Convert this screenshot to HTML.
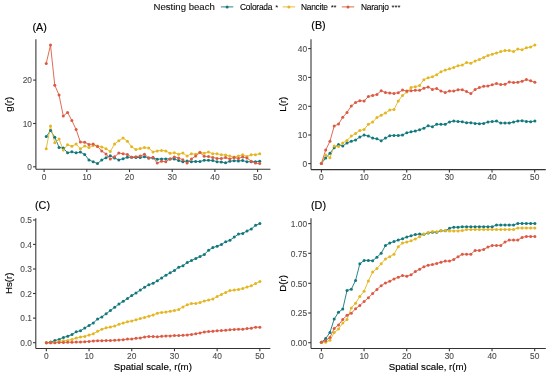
<!DOCTYPE html>
<html><head><meta charset="utf-8"><style>
html,body{margin:0;padding:0;background:#fff;}
svg{display:block;will-change:transform;}
text{font-family:"Liberation Sans",sans-serif;}
.tk{font-size:8.4px;fill:#4d4d4d;stroke:#4d4d4d;stroke-width:0.1px;}
.ttl{font-size:10.8px;fill:#000;stroke:#000;stroke-width:0.15px;}
.ax{font-size:9.7px;fill:#000;stroke:#000;stroke-width:0.15px;}
.lg{font-size:9.6px;fill:#111;stroke:#111;stroke-width:0.1px;}
.lk{font-size:8.4px;letter-spacing:-0.22px;fill:#000;stroke:#000;stroke-width:0.1px;}
.as{font-size:7.8px;letter-spacing:-0.1px;stroke-width:0;}
</style></head><body>
<svg width="550" height="374" viewBox="0 0 550 374">
<defs><filter id="soft" x="-5%" y="-5%" width="110%" height="110%"><feGaussianBlur stdDeviation="0.3"/></filter></defs>
<rect width="550" height="374" fill="#fff"/>
<g filter="url(#soft)">
<line x1="35.9" y1="39.3" x2="35.9" y2="169.3" stroke="#333333" stroke-width="1.07"/>
<line x1="35.9" y1="169.3" x2="270.4" y2="169.3" stroke="#333333" stroke-width="1.07"/>
<line x1="44.10" y1="169.3" x2="44.10" y2="172.10000000000002" stroke="#333333" stroke-width="1.07"/>
<text x="44.10" y="179.70000000000002" text-anchor="middle" class="tk">0</text>
<line x1="86.80" y1="169.3" x2="86.80" y2="172.10000000000002" stroke="#333333" stroke-width="1.07"/>
<text x="86.80" y="179.70000000000002" text-anchor="middle" class="tk">10</text>
<line x1="129.50" y1="169.3" x2="129.50" y2="172.10000000000002" stroke="#333333" stroke-width="1.07"/>
<text x="129.50" y="179.70000000000002" text-anchor="middle" class="tk">20</text>
<line x1="172.20" y1="169.3" x2="172.20" y2="172.10000000000002" stroke="#333333" stroke-width="1.07"/>
<text x="172.20" y="179.70000000000002" text-anchor="middle" class="tk">30</text>
<line x1="214.90" y1="169.3" x2="214.90" y2="172.10000000000002" stroke="#333333" stroke-width="1.07"/>
<text x="214.90" y="179.70000000000002" text-anchor="middle" class="tk">40</text>
<line x1="257.60" y1="169.3" x2="257.60" y2="172.10000000000002" stroke="#333333" stroke-width="1.07"/>
<text x="257.60" y="179.70000000000002" text-anchor="middle" class="tk">50</text>
<line x1="33.1" y1="166.80" x2="35.9" y2="166.80" stroke="#333333" stroke-width="1.07"/>
<text x="32.0" y="170.10" text-anchor="end" class="tk">0</text>
<line x1="33.1" y1="123.50" x2="35.9" y2="123.50" stroke="#333333" stroke-width="1.07"/>
<text x="32.0" y="126.80" text-anchor="end" class="tk">10</text>
<line x1="33.1" y1="80.10" x2="35.9" y2="80.10" stroke="#333333" stroke-width="1.07"/>
<text x="32.0" y="83.40" text-anchor="end" class="tk">20</text>
<polyline points="46.23,136.60 50.51,130.60 54.77,137.20 59.05,147.40 63.31,148.10 67.59,152.80 71.85,151.80 76.12,152.80 80.39,152.10 84.66,154.40 88.94,159.90 93.20,161.80 97.47,163.50 101.75,160.00 106.01,157.70 110.28,155.70 114.56,158.00 118.82,159.90 123.09,158.70 127.36,157.30 131.63,157.30 135.91,157.50 140.17,157.50 144.44,156.70 148.72,157.90 152.98,157.90 157.25,159.20 161.52,158.90 165.79,158.90 170.06,158.90 174.33,158.90 178.60,160.50 182.87,161.70 187.14,161.00 191.41,161.70 195.68,161.50 199.95,161.50 204.22,160.30 208.49,160.30 212.76,160.50 217.03,161.70 221.30,162.10 225.57,162.80 229.84,161.20 234.11,160.70 238.38,161.00 242.65,160.50 246.92,161.70 251.19,161.70 255.46,161.70 259.74,161.20" fill="none" stroke="#12787c" stroke-width="0.9" stroke-linejoin="round"/>
<polyline points="46.23,148.70 50.51,126.00 54.77,142.70 59.05,139.10 63.31,150.10 67.59,144.70 71.85,146.30 76.12,144.10 80.39,148.70 84.66,146.00 88.94,147.60 93.20,145.40 97.47,146.10 101.75,146.90 106.01,148.70 110.28,151.50 114.56,144.00 118.82,140.80 123.09,138.00 127.36,141.20 131.63,146.80 135.91,149.50 140.17,148.60 144.44,147.60 148.72,148.10 152.98,151.90 157.25,150.90 161.52,150.40 165.79,150.90 170.06,153.30 174.33,152.80 178.60,154.20 182.87,153.00 187.14,156.10 191.41,153.70 195.68,154.20 199.95,152.30 204.22,153.30 208.49,151.90 212.76,153.70 217.03,153.70 221.30,154.70 225.57,155.10 229.84,156.10 234.11,157.00 238.38,156.10 242.65,154.70 246.92,156.50 251.19,154.70 255.46,154.70 259.74,153.70" fill="none" stroke="#e4b622" stroke-width="0.9" stroke-linejoin="round"/>
<polyline points="46.23,63.40 50.51,45.10 54.77,85.20 59.05,95.10 63.31,116.00 67.59,112.50 71.85,120.50 76.12,129.50 80.39,142.10 84.66,142.20 88.94,144.40 93.20,144.10 97.47,146.40 101.75,151.00 106.01,153.90 110.28,159.10 114.56,156.80 118.82,153.00 123.09,153.80 127.36,154.40 131.63,157.20 135.91,156.70 140.17,156.10 144.44,154.20 148.72,157.90 152.98,157.30 157.25,163.10 161.52,161.20 165.79,161.70 170.06,158.90 174.33,157.00 178.60,157.90 182.87,159.80 187.14,163.10 191.41,158.90 195.68,156.10 199.95,152.60 204.22,156.30 208.49,156.50 212.76,157.50 217.03,158.40 221.30,158.60 225.57,157.50 229.84,158.90 234.11,157.50 238.38,158.40 242.65,157.00 246.92,157.90 251.19,161.20 255.46,163.10 259.74,163.60" fill="none" stroke="#dc5a43" stroke-width="0.9" stroke-linejoin="round"/>
<circle cx="46.23" cy="136.60" r="1.5" fill="#12787c"/><circle cx="50.51" cy="130.60" r="1.5" fill="#12787c"/><circle cx="54.77" cy="137.20" r="1.5" fill="#12787c"/><circle cx="59.05" cy="147.40" r="1.5" fill="#12787c"/><circle cx="63.31" cy="148.10" r="1.5" fill="#12787c"/><circle cx="67.59" cy="152.80" r="1.5" fill="#12787c"/><circle cx="71.85" cy="151.80" r="1.5" fill="#12787c"/><circle cx="76.12" cy="152.80" r="1.5" fill="#12787c"/><circle cx="80.39" cy="152.10" r="1.5" fill="#12787c"/><circle cx="84.66" cy="154.40" r="1.5" fill="#12787c"/><circle cx="88.94" cy="159.90" r="1.5" fill="#12787c"/><circle cx="93.20" cy="161.80" r="1.5" fill="#12787c"/><circle cx="97.47" cy="163.50" r="1.5" fill="#12787c"/><circle cx="101.75" cy="160.00" r="1.5" fill="#12787c"/><circle cx="106.01" cy="157.70" r="1.5" fill="#12787c"/><circle cx="110.28" cy="155.70" r="1.5" fill="#12787c"/><circle cx="114.56" cy="158.00" r="1.5" fill="#12787c"/><circle cx="118.82" cy="159.90" r="1.5" fill="#12787c"/><circle cx="123.09" cy="158.70" r="1.5" fill="#12787c"/><circle cx="127.36" cy="157.30" r="1.5" fill="#12787c"/><circle cx="131.63" cy="157.30" r="1.5" fill="#12787c"/><circle cx="135.91" cy="157.50" r="1.5" fill="#12787c"/><circle cx="140.17" cy="157.50" r="1.5" fill="#12787c"/><circle cx="144.44" cy="156.70" r="1.5" fill="#12787c"/><circle cx="148.72" cy="157.90" r="1.5" fill="#12787c"/><circle cx="152.98" cy="157.90" r="1.5" fill="#12787c"/><circle cx="157.25" cy="159.20" r="1.5" fill="#12787c"/><circle cx="161.52" cy="158.90" r="1.5" fill="#12787c"/><circle cx="165.79" cy="158.90" r="1.5" fill="#12787c"/><circle cx="170.06" cy="158.90" r="1.5" fill="#12787c"/><circle cx="174.33" cy="158.90" r="1.5" fill="#12787c"/><circle cx="178.60" cy="160.50" r="1.5" fill="#12787c"/><circle cx="182.87" cy="161.70" r="1.5" fill="#12787c"/><circle cx="187.14" cy="161.00" r="1.5" fill="#12787c"/><circle cx="191.41" cy="161.70" r="1.5" fill="#12787c"/><circle cx="195.68" cy="161.50" r="1.5" fill="#12787c"/><circle cx="199.95" cy="161.50" r="1.5" fill="#12787c"/><circle cx="204.22" cy="160.30" r="1.5" fill="#12787c"/><circle cx="208.49" cy="160.30" r="1.5" fill="#12787c"/><circle cx="212.76" cy="160.50" r="1.5" fill="#12787c"/><circle cx="217.03" cy="161.70" r="1.5" fill="#12787c"/><circle cx="221.30" cy="162.10" r="1.5" fill="#12787c"/><circle cx="225.57" cy="162.80" r="1.5" fill="#12787c"/><circle cx="229.84" cy="161.20" r="1.5" fill="#12787c"/><circle cx="234.11" cy="160.70" r="1.5" fill="#12787c"/><circle cx="238.38" cy="161.00" r="1.5" fill="#12787c"/><circle cx="242.65" cy="160.50" r="1.5" fill="#12787c"/><circle cx="246.92" cy="161.70" r="1.5" fill="#12787c"/><circle cx="251.19" cy="161.70" r="1.5" fill="#12787c"/><circle cx="255.46" cy="161.70" r="1.5" fill="#12787c"/><circle cx="259.74" cy="161.20" r="1.5" fill="#12787c"/>
<circle cx="46.23" cy="148.70" r="1.5" fill="#e4b622"/><circle cx="50.51" cy="126.00" r="1.5" fill="#e4b622"/><circle cx="54.77" cy="142.70" r="1.5" fill="#e4b622"/><circle cx="59.05" cy="139.10" r="1.5" fill="#e4b622"/><circle cx="63.31" cy="150.10" r="1.5" fill="#e4b622"/><circle cx="67.59" cy="144.70" r="1.5" fill="#e4b622"/><circle cx="71.85" cy="146.30" r="1.5" fill="#e4b622"/><circle cx="76.12" cy="144.10" r="1.5" fill="#e4b622"/><circle cx="80.39" cy="148.70" r="1.5" fill="#e4b622"/><circle cx="84.66" cy="146.00" r="1.5" fill="#e4b622"/><circle cx="88.94" cy="147.60" r="1.5" fill="#e4b622"/><circle cx="93.20" cy="145.40" r="1.5" fill="#e4b622"/><circle cx="97.47" cy="146.10" r="1.5" fill="#e4b622"/><circle cx="101.75" cy="146.90" r="1.5" fill="#e4b622"/><circle cx="106.01" cy="148.70" r="1.5" fill="#e4b622"/><circle cx="110.28" cy="151.50" r="1.5" fill="#e4b622"/><circle cx="114.56" cy="144.00" r="1.5" fill="#e4b622"/><circle cx="118.82" cy="140.80" r="1.5" fill="#e4b622"/><circle cx="123.09" cy="138.00" r="1.5" fill="#e4b622"/><circle cx="127.36" cy="141.20" r="1.5" fill="#e4b622"/><circle cx="131.63" cy="146.80" r="1.5" fill="#e4b622"/><circle cx="135.91" cy="149.50" r="1.5" fill="#e4b622"/><circle cx="140.17" cy="148.60" r="1.5" fill="#e4b622"/><circle cx="144.44" cy="147.60" r="1.5" fill="#e4b622"/><circle cx="148.72" cy="148.10" r="1.5" fill="#e4b622"/><circle cx="152.98" cy="151.90" r="1.5" fill="#e4b622"/><circle cx="157.25" cy="150.90" r="1.5" fill="#e4b622"/><circle cx="161.52" cy="150.40" r="1.5" fill="#e4b622"/><circle cx="165.79" cy="150.90" r="1.5" fill="#e4b622"/><circle cx="170.06" cy="153.30" r="1.5" fill="#e4b622"/><circle cx="174.33" cy="152.80" r="1.5" fill="#e4b622"/><circle cx="178.60" cy="154.20" r="1.5" fill="#e4b622"/><circle cx="182.87" cy="153.00" r="1.5" fill="#e4b622"/><circle cx="187.14" cy="156.10" r="1.5" fill="#e4b622"/><circle cx="191.41" cy="153.70" r="1.5" fill="#e4b622"/><circle cx="195.68" cy="154.20" r="1.5" fill="#e4b622"/><circle cx="199.95" cy="152.30" r="1.5" fill="#e4b622"/><circle cx="204.22" cy="153.30" r="1.5" fill="#e4b622"/><circle cx="208.49" cy="151.90" r="1.5" fill="#e4b622"/><circle cx="212.76" cy="153.70" r="1.5" fill="#e4b622"/><circle cx="217.03" cy="153.70" r="1.5" fill="#e4b622"/><circle cx="221.30" cy="154.70" r="1.5" fill="#e4b622"/><circle cx="225.57" cy="155.10" r="1.5" fill="#e4b622"/><circle cx="229.84" cy="156.10" r="1.5" fill="#e4b622"/><circle cx="234.11" cy="157.00" r="1.5" fill="#e4b622"/><circle cx="238.38" cy="156.10" r="1.5" fill="#e4b622"/><circle cx="242.65" cy="154.70" r="1.5" fill="#e4b622"/><circle cx="246.92" cy="156.50" r="1.5" fill="#e4b622"/><circle cx="251.19" cy="154.70" r="1.5" fill="#e4b622"/><circle cx="255.46" cy="154.70" r="1.5" fill="#e4b622"/><circle cx="259.74" cy="153.70" r="1.5" fill="#e4b622"/>
<circle cx="46.23" cy="63.40" r="1.5" fill="#dc5a43"/><circle cx="50.51" cy="45.10" r="1.5" fill="#dc5a43"/><circle cx="54.77" cy="85.20" r="1.5" fill="#dc5a43"/><circle cx="59.05" cy="95.10" r="1.5" fill="#dc5a43"/><circle cx="63.31" cy="116.00" r="1.5" fill="#dc5a43"/><circle cx="67.59" cy="112.50" r="1.5" fill="#dc5a43"/><circle cx="71.85" cy="120.50" r="1.5" fill="#dc5a43"/><circle cx="76.12" cy="129.50" r="1.5" fill="#dc5a43"/><circle cx="80.39" cy="142.10" r="1.5" fill="#dc5a43"/><circle cx="84.66" cy="142.20" r="1.5" fill="#dc5a43"/><circle cx="88.94" cy="144.40" r="1.5" fill="#dc5a43"/><circle cx="93.20" cy="144.10" r="1.5" fill="#dc5a43"/><circle cx="97.47" cy="146.40" r="1.5" fill="#dc5a43"/><circle cx="101.75" cy="151.00" r="1.5" fill="#dc5a43"/><circle cx="106.01" cy="153.90" r="1.5" fill="#dc5a43"/><circle cx="110.28" cy="159.10" r="1.5" fill="#dc5a43"/><circle cx="114.56" cy="156.80" r="1.5" fill="#dc5a43"/><circle cx="118.82" cy="153.00" r="1.5" fill="#dc5a43"/><circle cx="123.09" cy="153.80" r="1.5" fill="#dc5a43"/><circle cx="127.36" cy="154.40" r="1.5" fill="#dc5a43"/><circle cx="131.63" cy="157.20" r="1.5" fill="#dc5a43"/><circle cx="135.91" cy="156.70" r="1.5" fill="#dc5a43"/><circle cx="140.17" cy="156.10" r="1.5" fill="#dc5a43"/><circle cx="144.44" cy="154.20" r="1.5" fill="#dc5a43"/><circle cx="148.72" cy="157.90" r="1.5" fill="#dc5a43"/><circle cx="152.98" cy="157.30" r="1.5" fill="#dc5a43"/><circle cx="157.25" cy="163.10" r="1.5" fill="#dc5a43"/><circle cx="161.52" cy="161.20" r="1.5" fill="#dc5a43"/><circle cx="165.79" cy="161.70" r="1.5" fill="#dc5a43"/><circle cx="170.06" cy="158.90" r="1.5" fill="#dc5a43"/><circle cx="174.33" cy="157.00" r="1.5" fill="#dc5a43"/><circle cx="178.60" cy="157.90" r="1.5" fill="#dc5a43"/><circle cx="182.87" cy="159.80" r="1.5" fill="#dc5a43"/><circle cx="187.14" cy="163.10" r="1.5" fill="#dc5a43"/><circle cx="191.41" cy="158.90" r="1.5" fill="#dc5a43"/><circle cx="195.68" cy="156.10" r="1.5" fill="#dc5a43"/><circle cx="199.95" cy="152.60" r="1.5" fill="#dc5a43"/><circle cx="204.22" cy="156.30" r="1.5" fill="#dc5a43"/><circle cx="208.49" cy="156.50" r="1.5" fill="#dc5a43"/><circle cx="212.76" cy="157.50" r="1.5" fill="#dc5a43"/><circle cx="217.03" cy="158.40" r="1.5" fill="#dc5a43"/><circle cx="221.30" cy="158.60" r="1.5" fill="#dc5a43"/><circle cx="225.57" cy="157.50" r="1.5" fill="#dc5a43"/><circle cx="229.84" cy="158.90" r="1.5" fill="#dc5a43"/><circle cx="234.11" cy="157.50" r="1.5" fill="#dc5a43"/><circle cx="238.38" cy="158.40" r="1.5" fill="#dc5a43"/><circle cx="242.65" cy="157.00" r="1.5" fill="#dc5a43"/><circle cx="246.92" cy="157.90" r="1.5" fill="#dc5a43"/><circle cx="251.19" cy="161.20" r="1.5" fill="#dc5a43"/><circle cx="255.46" cy="163.10" r="1.5" fill="#dc5a43"/><circle cx="259.74" cy="163.60" r="1.5" fill="#dc5a43"/>
<line x1="311.0" y1="39.3" x2="311.0" y2="169.6" stroke="#333333" stroke-width="1.07"/>
<line x1="311.0" y1="169.6" x2="545.8" y2="169.6" stroke="#333333" stroke-width="1.07"/>
<line x1="321.40" y1="169.6" x2="321.40" y2="172.4" stroke="#333333" stroke-width="1.07"/>
<text x="321.40" y="180.0" text-anchor="middle" class="tk">0</text>
<line x1="364.06" y1="169.6" x2="364.06" y2="172.4" stroke="#333333" stroke-width="1.07"/>
<text x="364.06" y="180.0" text-anchor="middle" class="tk">10</text>
<line x1="406.72" y1="169.6" x2="406.72" y2="172.4" stroke="#333333" stroke-width="1.07"/>
<text x="406.72" y="180.0" text-anchor="middle" class="tk">20</text>
<line x1="449.38" y1="169.6" x2="449.38" y2="172.4" stroke="#333333" stroke-width="1.07"/>
<text x="449.38" y="180.0" text-anchor="middle" class="tk">30</text>
<line x1="492.04" y1="169.6" x2="492.04" y2="172.4" stroke="#333333" stroke-width="1.07"/>
<text x="492.04" y="180.0" text-anchor="middle" class="tk">40</text>
<line x1="534.70" y1="169.6" x2="534.70" y2="172.4" stroke="#333333" stroke-width="1.07"/>
<text x="534.70" y="180.0" text-anchor="middle" class="tk">50</text>
<line x1="308.2" y1="163.60" x2="311.0" y2="163.60" stroke="#333333" stroke-width="1.07"/>
<text x="307.1" y="166.90" text-anchor="end" class="tk">0</text>
<line x1="308.2" y1="135.00" x2="311.0" y2="135.00" stroke="#333333" stroke-width="1.07"/>
<text x="307.1" y="138.30" text-anchor="end" class="tk">10</text>
<line x1="308.2" y1="106.30" x2="311.0" y2="106.30" stroke="#333333" stroke-width="1.07"/>
<text x="307.1" y="109.60" text-anchor="end" class="tk">20</text>
<line x1="308.2" y1="77.40" x2="311.0" y2="77.40" stroke="#333333" stroke-width="1.07"/>
<text x="307.1" y="80.70" text-anchor="end" class="tk">30</text>
<line x1="308.2" y1="48.60" x2="311.0" y2="48.60" stroke="#333333" stroke-width="1.07"/>
<text x="307.1" y="51.90" text-anchor="end" class="tk">40</text>
<polyline points="321.40,163.40 325.67,158.10 329.94,153.30 334.21,147.70 338.48,144.50 342.75,146.10 347.02,142.90 351.29,141.30 355.56,140.10 359.83,137.00 364.10,135.10 368.37,136.10 372.64,138.10 376.91,138.80 381.18,140.80 385.45,138.10 389.72,135.80 393.99,135.40 398.26,135.40 402.53,135.00 406.80,132.80 411.07,131.80 415.34,131.00 419.61,129.70 423.88,128.30 428.15,125.70 432.42,126.70 436.69,124.30 440.96,124.30 445.23,124.30 449.50,121.90 453.77,121.10 458.04,121.40 462.31,121.80 466.58,122.70 470.85,122.70 475.12,123.40 479.39,123.80 483.66,123.40 487.93,122.10 492.20,121.50 496.47,121.10 500.74,123.00 505.01,123.00 509.28,123.00 513.55,122.10 517.82,121.10 522.09,120.70 526.36,121.40 530.63,121.70 534.90,121.10" fill="none" stroke="#12787c" stroke-width="0.9" stroke-linejoin="round"/>
<polyline points="321.40,163.40 325.67,154.90 329.94,157.80 334.21,146.10 338.48,146.50 342.75,142.90 347.02,140.40 351.29,136.10 355.56,133.50 359.83,130.50 364.10,129.50 368.37,124.30 372.64,122.10 376.91,117.60 381.18,115.20 385.45,113.00 389.72,110.00 393.99,109.40 398.26,101.10 402.53,95.40 406.80,92.10 411.07,87.40 415.34,86.70 419.61,85.40 423.88,79.70 428.15,77.70 432.42,76.80 436.69,74.70 440.96,71.70 445.23,70.10 449.50,68.80 453.77,67.50 458.04,65.70 462.31,65.10 466.58,62.60 470.85,63.20 475.12,61.00 479.39,59.40 483.66,57.40 487.93,55.50 492.20,54.20 496.47,53.00 500.74,51.60 505.01,50.60 509.28,50.60 513.55,51.50 517.82,49.10 522.09,49.70 526.36,47.80 530.63,47.00 534.90,44.90" fill="none" stroke="#e4b622" stroke-width="0.9" stroke-linejoin="round"/>
<polyline points="321.40,163.40 325.67,150.10 329.94,141.30 334.21,126.00 338.48,124.10 342.75,117.30 347.02,112.40 351.29,106.10 355.56,102.50 359.83,100.70 364.10,101.00 368.37,96.50 372.64,95.40 376.91,94.50 381.18,90.70 385.45,92.60 389.72,93.00 393.99,93.40 398.26,92.70 402.53,90.10 406.80,91.10 411.07,90.70 415.34,90.30 419.61,90.30 423.88,88.30 428.15,86.90 432.42,89.40 436.69,88.40 440.96,91.10 445.23,92.50 449.50,91.10 453.77,91.10 458.04,89.80 462.31,89.80 466.58,91.60 470.85,93.60 475.12,89.50 479.39,87.60 483.66,86.30 487.93,86.00 492.20,84.70 496.47,83.50 500.74,84.50 505.01,84.30 509.28,82.00 513.55,82.50 517.82,82.30 522.09,81.20 526.36,79.60 530.63,80.70 534.90,82.30" fill="none" stroke="#dc5a43" stroke-width="0.9" stroke-linejoin="round"/>
<circle cx="321.40" cy="163.40" r="1.5" fill="#12787c"/><circle cx="325.67" cy="158.10" r="1.5" fill="#12787c"/><circle cx="329.94" cy="153.30" r="1.5" fill="#12787c"/><circle cx="334.21" cy="147.70" r="1.5" fill="#12787c"/><circle cx="338.48" cy="144.50" r="1.5" fill="#12787c"/><circle cx="342.75" cy="146.10" r="1.5" fill="#12787c"/><circle cx="347.02" cy="142.90" r="1.5" fill="#12787c"/><circle cx="351.29" cy="141.30" r="1.5" fill="#12787c"/><circle cx="355.56" cy="140.10" r="1.5" fill="#12787c"/><circle cx="359.83" cy="137.00" r="1.5" fill="#12787c"/><circle cx="364.10" cy="135.10" r="1.5" fill="#12787c"/><circle cx="368.37" cy="136.10" r="1.5" fill="#12787c"/><circle cx="372.64" cy="138.10" r="1.5" fill="#12787c"/><circle cx="376.91" cy="138.80" r="1.5" fill="#12787c"/><circle cx="381.18" cy="140.80" r="1.5" fill="#12787c"/><circle cx="385.45" cy="138.10" r="1.5" fill="#12787c"/><circle cx="389.72" cy="135.80" r="1.5" fill="#12787c"/><circle cx="393.99" cy="135.40" r="1.5" fill="#12787c"/><circle cx="398.26" cy="135.40" r="1.5" fill="#12787c"/><circle cx="402.53" cy="135.00" r="1.5" fill="#12787c"/><circle cx="406.80" cy="132.80" r="1.5" fill="#12787c"/><circle cx="411.07" cy="131.80" r="1.5" fill="#12787c"/><circle cx="415.34" cy="131.00" r="1.5" fill="#12787c"/><circle cx="419.61" cy="129.70" r="1.5" fill="#12787c"/><circle cx="423.88" cy="128.30" r="1.5" fill="#12787c"/><circle cx="428.15" cy="125.70" r="1.5" fill="#12787c"/><circle cx="432.42" cy="126.70" r="1.5" fill="#12787c"/><circle cx="436.69" cy="124.30" r="1.5" fill="#12787c"/><circle cx="440.96" cy="124.30" r="1.5" fill="#12787c"/><circle cx="445.23" cy="124.30" r="1.5" fill="#12787c"/><circle cx="449.50" cy="121.90" r="1.5" fill="#12787c"/><circle cx="453.77" cy="121.10" r="1.5" fill="#12787c"/><circle cx="458.04" cy="121.40" r="1.5" fill="#12787c"/><circle cx="462.31" cy="121.80" r="1.5" fill="#12787c"/><circle cx="466.58" cy="122.70" r="1.5" fill="#12787c"/><circle cx="470.85" cy="122.70" r="1.5" fill="#12787c"/><circle cx="475.12" cy="123.40" r="1.5" fill="#12787c"/><circle cx="479.39" cy="123.80" r="1.5" fill="#12787c"/><circle cx="483.66" cy="123.40" r="1.5" fill="#12787c"/><circle cx="487.93" cy="122.10" r="1.5" fill="#12787c"/><circle cx="492.20" cy="121.50" r="1.5" fill="#12787c"/><circle cx="496.47" cy="121.10" r="1.5" fill="#12787c"/><circle cx="500.74" cy="123.00" r="1.5" fill="#12787c"/><circle cx="505.01" cy="123.00" r="1.5" fill="#12787c"/><circle cx="509.28" cy="123.00" r="1.5" fill="#12787c"/><circle cx="513.55" cy="122.10" r="1.5" fill="#12787c"/><circle cx="517.82" cy="121.10" r="1.5" fill="#12787c"/><circle cx="522.09" cy="120.70" r="1.5" fill="#12787c"/><circle cx="526.36" cy="121.40" r="1.5" fill="#12787c"/><circle cx="530.63" cy="121.70" r="1.5" fill="#12787c"/><circle cx="534.90" cy="121.10" r="1.5" fill="#12787c"/>
<circle cx="321.40" cy="163.40" r="1.5" fill="#e4b622"/><circle cx="325.67" cy="154.90" r="1.5" fill="#e4b622"/><circle cx="329.94" cy="157.80" r="1.5" fill="#e4b622"/><circle cx="334.21" cy="146.10" r="1.5" fill="#e4b622"/><circle cx="338.48" cy="146.50" r="1.5" fill="#e4b622"/><circle cx="342.75" cy="142.90" r="1.5" fill="#e4b622"/><circle cx="347.02" cy="140.40" r="1.5" fill="#e4b622"/><circle cx="351.29" cy="136.10" r="1.5" fill="#e4b622"/><circle cx="355.56" cy="133.50" r="1.5" fill="#e4b622"/><circle cx="359.83" cy="130.50" r="1.5" fill="#e4b622"/><circle cx="364.10" cy="129.50" r="1.5" fill="#e4b622"/><circle cx="368.37" cy="124.30" r="1.5" fill="#e4b622"/><circle cx="372.64" cy="122.10" r="1.5" fill="#e4b622"/><circle cx="376.91" cy="117.60" r="1.5" fill="#e4b622"/><circle cx="381.18" cy="115.20" r="1.5" fill="#e4b622"/><circle cx="385.45" cy="113.00" r="1.5" fill="#e4b622"/><circle cx="389.72" cy="110.00" r="1.5" fill="#e4b622"/><circle cx="393.99" cy="109.40" r="1.5" fill="#e4b622"/><circle cx="398.26" cy="101.10" r="1.5" fill="#e4b622"/><circle cx="402.53" cy="95.40" r="1.5" fill="#e4b622"/><circle cx="406.80" cy="92.10" r="1.5" fill="#e4b622"/><circle cx="411.07" cy="87.40" r="1.5" fill="#e4b622"/><circle cx="415.34" cy="86.70" r="1.5" fill="#e4b622"/><circle cx="419.61" cy="85.40" r="1.5" fill="#e4b622"/><circle cx="423.88" cy="79.70" r="1.5" fill="#e4b622"/><circle cx="428.15" cy="77.70" r="1.5" fill="#e4b622"/><circle cx="432.42" cy="76.80" r="1.5" fill="#e4b622"/><circle cx="436.69" cy="74.70" r="1.5" fill="#e4b622"/><circle cx="440.96" cy="71.70" r="1.5" fill="#e4b622"/><circle cx="445.23" cy="70.10" r="1.5" fill="#e4b622"/><circle cx="449.50" cy="68.80" r="1.5" fill="#e4b622"/><circle cx="453.77" cy="67.50" r="1.5" fill="#e4b622"/><circle cx="458.04" cy="65.70" r="1.5" fill="#e4b622"/><circle cx="462.31" cy="65.10" r="1.5" fill="#e4b622"/><circle cx="466.58" cy="62.60" r="1.5" fill="#e4b622"/><circle cx="470.85" cy="63.20" r="1.5" fill="#e4b622"/><circle cx="475.12" cy="61.00" r="1.5" fill="#e4b622"/><circle cx="479.39" cy="59.40" r="1.5" fill="#e4b622"/><circle cx="483.66" cy="57.40" r="1.5" fill="#e4b622"/><circle cx="487.93" cy="55.50" r="1.5" fill="#e4b622"/><circle cx="492.20" cy="54.20" r="1.5" fill="#e4b622"/><circle cx="496.47" cy="53.00" r="1.5" fill="#e4b622"/><circle cx="500.74" cy="51.60" r="1.5" fill="#e4b622"/><circle cx="505.01" cy="50.60" r="1.5" fill="#e4b622"/><circle cx="509.28" cy="50.60" r="1.5" fill="#e4b622"/><circle cx="513.55" cy="51.50" r="1.5" fill="#e4b622"/><circle cx="517.82" cy="49.10" r="1.5" fill="#e4b622"/><circle cx="522.09" cy="49.70" r="1.5" fill="#e4b622"/><circle cx="526.36" cy="47.80" r="1.5" fill="#e4b622"/><circle cx="530.63" cy="47.00" r="1.5" fill="#e4b622"/><circle cx="534.90" cy="44.90" r="1.5" fill="#e4b622"/>
<circle cx="321.40" cy="163.40" r="1.5" fill="#dc5a43"/><circle cx="325.67" cy="150.10" r="1.5" fill="#dc5a43"/><circle cx="329.94" cy="141.30" r="1.5" fill="#dc5a43"/><circle cx="334.21" cy="126.00" r="1.5" fill="#dc5a43"/><circle cx="338.48" cy="124.10" r="1.5" fill="#dc5a43"/><circle cx="342.75" cy="117.30" r="1.5" fill="#dc5a43"/><circle cx="347.02" cy="112.40" r="1.5" fill="#dc5a43"/><circle cx="351.29" cy="106.10" r="1.5" fill="#dc5a43"/><circle cx="355.56" cy="102.50" r="1.5" fill="#dc5a43"/><circle cx="359.83" cy="100.70" r="1.5" fill="#dc5a43"/><circle cx="364.10" cy="101.00" r="1.5" fill="#dc5a43"/><circle cx="368.37" cy="96.50" r="1.5" fill="#dc5a43"/><circle cx="372.64" cy="95.40" r="1.5" fill="#dc5a43"/><circle cx="376.91" cy="94.50" r="1.5" fill="#dc5a43"/><circle cx="381.18" cy="90.70" r="1.5" fill="#dc5a43"/><circle cx="385.45" cy="92.60" r="1.5" fill="#dc5a43"/><circle cx="389.72" cy="93.00" r="1.5" fill="#dc5a43"/><circle cx="393.99" cy="93.40" r="1.5" fill="#dc5a43"/><circle cx="398.26" cy="92.70" r="1.5" fill="#dc5a43"/><circle cx="402.53" cy="90.10" r="1.5" fill="#dc5a43"/><circle cx="406.80" cy="91.10" r="1.5" fill="#dc5a43"/><circle cx="411.07" cy="90.70" r="1.5" fill="#dc5a43"/><circle cx="415.34" cy="90.30" r="1.5" fill="#dc5a43"/><circle cx="419.61" cy="90.30" r="1.5" fill="#dc5a43"/><circle cx="423.88" cy="88.30" r="1.5" fill="#dc5a43"/><circle cx="428.15" cy="86.90" r="1.5" fill="#dc5a43"/><circle cx="432.42" cy="89.40" r="1.5" fill="#dc5a43"/><circle cx="436.69" cy="88.40" r="1.5" fill="#dc5a43"/><circle cx="440.96" cy="91.10" r="1.5" fill="#dc5a43"/><circle cx="445.23" cy="92.50" r="1.5" fill="#dc5a43"/><circle cx="449.50" cy="91.10" r="1.5" fill="#dc5a43"/><circle cx="453.77" cy="91.10" r="1.5" fill="#dc5a43"/><circle cx="458.04" cy="89.80" r="1.5" fill="#dc5a43"/><circle cx="462.31" cy="89.80" r="1.5" fill="#dc5a43"/><circle cx="466.58" cy="91.60" r="1.5" fill="#dc5a43"/><circle cx="470.85" cy="93.60" r="1.5" fill="#dc5a43"/><circle cx="475.12" cy="89.50" r="1.5" fill="#dc5a43"/><circle cx="479.39" cy="87.60" r="1.5" fill="#dc5a43"/><circle cx="483.66" cy="86.30" r="1.5" fill="#dc5a43"/><circle cx="487.93" cy="86.00" r="1.5" fill="#dc5a43"/><circle cx="492.20" cy="84.70" r="1.5" fill="#dc5a43"/><circle cx="496.47" cy="83.50" r="1.5" fill="#dc5a43"/><circle cx="500.74" cy="84.50" r="1.5" fill="#dc5a43"/><circle cx="505.01" cy="84.30" r="1.5" fill="#dc5a43"/><circle cx="509.28" cy="82.00" r="1.5" fill="#dc5a43"/><circle cx="513.55" cy="82.50" r="1.5" fill="#dc5a43"/><circle cx="517.82" cy="82.30" r="1.5" fill="#dc5a43"/><circle cx="522.09" cy="81.20" r="1.5" fill="#dc5a43"/><circle cx="526.36" cy="79.60" r="1.5" fill="#dc5a43"/><circle cx="530.63" cy="80.70" r="1.5" fill="#dc5a43"/><circle cx="534.90" cy="82.30" r="1.5" fill="#dc5a43"/>
<line x1="35.8" y1="218.3" x2="35.8" y2="348.5" stroke="#333333" stroke-width="1.07"/>
<line x1="35.8" y1="348.5" x2="270.3" y2="348.5" stroke="#333333" stroke-width="1.07"/>
<line x1="46.35" y1="348.5" x2="46.35" y2="351.3" stroke="#333333" stroke-width="1.07"/>
<text x="46.35" y="358.9" text-anchor="middle" class="tk">0</text>
<line x1="89.05" y1="348.5" x2="89.05" y2="351.3" stroke="#333333" stroke-width="1.07"/>
<text x="89.05" y="358.9" text-anchor="middle" class="tk">10</text>
<line x1="131.75" y1="348.5" x2="131.75" y2="351.3" stroke="#333333" stroke-width="1.07"/>
<text x="131.75" y="358.9" text-anchor="middle" class="tk">20</text>
<line x1="174.45" y1="348.5" x2="174.45" y2="351.3" stroke="#333333" stroke-width="1.07"/>
<text x="174.45" y="358.9" text-anchor="middle" class="tk">30</text>
<line x1="217.15" y1="348.5" x2="217.15" y2="351.3" stroke="#333333" stroke-width="1.07"/>
<text x="217.15" y="358.9" text-anchor="middle" class="tk">40</text>
<line x1="259.85" y1="348.5" x2="259.85" y2="351.3" stroke="#333333" stroke-width="1.07"/>
<text x="259.85" y="358.9" text-anchor="middle" class="tk">50</text>
<line x1="33.0" y1="342.70" x2="35.8" y2="342.70" stroke="#333333" stroke-width="1.07"/>
<text x="31.9" y="346.00" text-anchor="end" class="tk">0.0</text>
<line x1="33.0" y1="318.10" x2="35.8" y2="318.10" stroke="#333333" stroke-width="1.07"/>
<text x="31.9" y="321.40" text-anchor="end" class="tk">0.1</text>
<line x1="33.0" y1="293.50" x2="35.8" y2="293.50" stroke="#333333" stroke-width="1.07"/>
<text x="31.9" y="296.80" text-anchor="end" class="tk">0.2</text>
<line x1="33.0" y1="269.00" x2="35.8" y2="269.00" stroke="#333333" stroke-width="1.07"/>
<text x="31.9" y="272.30" text-anchor="end" class="tk">0.3</text>
<line x1="33.0" y1="244.40" x2="35.8" y2="244.40" stroke="#333333" stroke-width="1.07"/>
<text x="31.9" y="247.70" text-anchor="end" class="tk">0.4</text>
<line x1="33.0" y1="220.00" x2="35.8" y2="220.00" stroke="#333333" stroke-width="1.07"/>
<text x="31.9" y="223.30" text-anchor="end" class="tk">0.5</text>
<polyline points="46.35,342.80 50.62,342.10 54.89,340.50 59.16,339.40 63.43,337.40 67.70,336.30 71.97,334.50 76.24,331.80 80.51,330.70 84.78,328.10 89.05,325.40 93.32,323.00 97.59,319.00 101.86,316.90 106.13,313.70 110.40,310.50 114.67,307.30 118.94,304.10 123.21,301.30 127.48,298.50 131.75,295.60 136.02,292.90 140.29,290.10 144.56,287.20 148.83,284.80 153.10,283.20 157.37,280.80 161.64,277.90 165.91,275.20 170.18,272.80 174.45,270.40 178.72,267.20 182.99,265.70 187.26,262.40 191.53,260.60 195.80,258.40 200.07,256.50 204.34,254.40 208.61,250.20 212.88,247.60 217.15,246.20 221.42,244.40 225.69,241.80 229.96,240.30 234.23,237.10 238.50,234.10 242.77,233.40 247.04,230.90 251.31,229.00 255.58,225.30 259.85,223.50" fill="none" stroke="#12787c" stroke-width="0.9" stroke-linejoin="round"/>
<polyline points="46.35,342.80 50.62,342.80 54.89,342.50 59.16,341.40 63.43,340.80 67.70,340.40 71.97,339.40 76.24,338.00 80.51,336.90 84.78,336.40 89.05,335.10 93.32,333.70 97.59,331.30 101.86,329.30 106.13,327.80 110.40,327.00 114.67,326.10 118.94,324.30 123.21,323.10 127.48,321.70 131.75,320.90 136.02,319.70 140.29,318.60 144.56,317.40 148.83,316.20 153.10,315.00 157.37,313.20 161.64,312.40 165.91,312.10 170.18,311.30 174.45,310.60 178.72,309.40 182.99,306.90 187.26,304.70 191.53,303.50 195.80,303.50 200.07,302.50 204.34,301.00 208.61,300.00 212.88,299.10 217.15,296.50 221.42,294.50 225.69,292.50 229.96,290.50 234.23,290.10 238.50,289.50 242.77,288.50 247.04,287.10 251.31,285.70 255.58,283.60 259.85,281.60" fill="none" stroke="#e4b622" stroke-width="0.9" stroke-linejoin="round"/>
<polyline points="46.35,342.80 50.62,342.80 54.89,342.80 59.16,342.50 63.43,342.50 67.70,342.20 71.97,342.20 76.24,342.10 80.51,342.10 84.78,341.80 89.05,341.40 93.32,340.90 97.59,340.80 101.86,340.70 106.13,340.50 110.40,340.50 114.67,340.20 118.94,340.00 123.21,339.70 127.48,339.10 131.75,339.10 136.02,338.30 140.29,337.90 144.56,337.00 148.83,336.50 153.10,336.60 157.37,336.80 161.64,336.30 165.91,335.90 170.18,335.90 174.45,335.60 178.72,335.60 182.99,335.30 187.26,334.90 191.53,334.40 195.80,333.80 200.07,332.90 204.34,331.90 208.61,331.60 212.88,331.20 217.15,330.80 221.42,330.60 225.69,330.20 229.96,329.80 234.23,329.40 238.50,329.20 242.77,329.20 247.04,328.60 251.31,328.20 255.58,327.20 259.85,327.20" fill="none" stroke="#dc5a43" stroke-width="0.9" stroke-linejoin="round"/>
<circle cx="46.35" cy="342.80" r="1.5" fill="#12787c"/><circle cx="50.62" cy="342.10" r="1.5" fill="#12787c"/><circle cx="54.89" cy="340.50" r="1.5" fill="#12787c"/><circle cx="59.16" cy="339.40" r="1.5" fill="#12787c"/><circle cx="63.43" cy="337.40" r="1.5" fill="#12787c"/><circle cx="67.70" cy="336.30" r="1.5" fill="#12787c"/><circle cx="71.97" cy="334.50" r="1.5" fill="#12787c"/><circle cx="76.24" cy="331.80" r="1.5" fill="#12787c"/><circle cx="80.51" cy="330.70" r="1.5" fill="#12787c"/><circle cx="84.78" cy="328.10" r="1.5" fill="#12787c"/><circle cx="89.05" cy="325.40" r="1.5" fill="#12787c"/><circle cx="93.32" cy="323.00" r="1.5" fill="#12787c"/><circle cx="97.59" cy="319.00" r="1.5" fill="#12787c"/><circle cx="101.86" cy="316.90" r="1.5" fill="#12787c"/><circle cx="106.13" cy="313.70" r="1.5" fill="#12787c"/><circle cx="110.40" cy="310.50" r="1.5" fill="#12787c"/><circle cx="114.67" cy="307.30" r="1.5" fill="#12787c"/><circle cx="118.94" cy="304.10" r="1.5" fill="#12787c"/><circle cx="123.21" cy="301.30" r="1.5" fill="#12787c"/><circle cx="127.48" cy="298.50" r="1.5" fill="#12787c"/><circle cx="131.75" cy="295.60" r="1.5" fill="#12787c"/><circle cx="136.02" cy="292.90" r="1.5" fill="#12787c"/><circle cx="140.29" cy="290.10" r="1.5" fill="#12787c"/><circle cx="144.56" cy="287.20" r="1.5" fill="#12787c"/><circle cx="148.83" cy="284.80" r="1.5" fill="#12787c"/><circle cx="153.10" cy="283.20" r="1.5" fill="#12787c"/><circle cx="157.37" cy="280.80" r="1.5" fill="#12787c"/><circle cx="161.64" cy="277.90" r="1.5" fill="#12787c"/><circle cx="165.91" cy="275.20" r="1.5" fill="#12787c"/><circle cx="170.18" cy="272.80" r="1.5" fill="#12787c"/><circle cx="174.45" cy="270.40" r="1.5" fill="#12787c"/><circle cx="178.72" cy="267.20" r="1.5" fill="#12787c"/><circle cx="182.99" cy="265.70" r="1.5" fill="#12787c"/><circle cx="187.26" cy="262.40" r="1.5" fill="#12787c"/><circle cx="191.53" cy="260.60" r="1.5" fill="#12787c"/><circle cx="195.80" cy="258.40" r="1.5" fill="#12787c"/><circle cx="200.07" cy="256.50" r="1.5" fill="#12787c"/><circle cx="204.34" cy="254.40" r="1.5" fill="#12787c"/><circle cx="208.61" cy="250.20" r="1.5" fill="#12787c"/><circle cx="212.88" cy="247.60" r="1.5" fill="#12787c"/><circle cx="217.15" cy="246.20" r="1.5" fill="#12787c"/><circle cx="221.42" cy="244.40" r="1.5" fill="#12787c"/><circle cx="225.69" cy="241.80" r="1.5" fill="#12787c"/><circle cx="229.96" cy="240.30" r="1.5" fill="#12787c"/><circle cx="234.23" cy="237.10" r="1.5" fill="#12787c"/><circle cx="238.50" cy="234.10" r="1.5" fill="#12787c"/><circle cx="242.77" cy="233.40" r="1.5" fill="#12787c"/><circle cx="247.04" cy="230.90" r="1.5" fill="#12787c"/><circle cx="251.31" cy="229.00" r="1.5" fill="#12787c"/><circle cx="255.58" cy="225.30" r="1.5" fill="#12787c"/><circle cx="259.85" cy="223.50" r="1.5" fill="#12787c"/>
<circle cx="46.35" cy="342.80" r="1.5" fill="#e4b622"/><circle cx="50.62" cy="342.80" r="1.5" fill="#e4b622"/><circle cx="54.89" cy="342.50" r="1.5" fill="#e4b622"/><circle cx="59.16" cy="341.40" r="1.5" fill="#e4b622"/><circle cx="63.43" cy="340.80" r="1.5" fill="#e4b622"/><circle cx="67.70" cy="340.40" r="1.5" fill="#e4b622"/><circle cx="71.97" cy="339.40" r="1.5" fill="#e4b622"/><circle cx="76.24" cy="338.00" r="1.5" fill="#e4b622"/><circle cx="80.51" cy="336.90" r="1.5" fill="#e4b622"/><circle cx="84.78" cy="336.40" r="1.5" fill="#e4b622"/><circle cx="89.05" cy="335.10" r="1.5" fill="#e4b622"/><circle cx="93.32" cy="333.70" r="1.5" fill="#e4b622"/><circle cx="97.59" cy="331.30" r="1.5" fill="#e4b622"/><circle cx="101.86" cy="329.30" r="1.5" fill="#e4b622"/><circle cx="106.13" cy="327.80" r="1.5" fill="#e4b622"/><circle cx="110.40" cy="327.00" r="1.5" fill="#e4b622"/><circle cx="114.67" cy="326.10" r="1.5" fill="#e4b622"/><circle cx="118.94" cy="324.30" r="1.5" fill="#e4b622"/><circle cx="123.21" cy="323.10" r="1.5" fill="#e4b622"/><circle cx="127.48" cy="321.70" r="1.5" fill="#e4b622"/><circle cx="131.75" cy="320.90" r="1.5" fill="#e4b622"/><circle cx="136.02" cy="319.70" r="1.5" fill="#e4b622"/><circle cx="140.29" cy="318.60" r="1.5" fill="#e4b622"/><circle cx="144.56" cy="317.40" r="1.5" fill="#e4b622"/><circle cx="148.83" cy="316.20" r="1.5" fill="#e4b622"/><circle cx="153.10" cy="315.00" r="1.5" fill="#e4b622"/><circle cx="157.37" cy="313.20" r="1.5" fill="#e4b622"/><circle cx="161.64" cy="312.40" r="1.5" fill="#e4b622"/><circle cx="165.91" cy="312.10" r="1.5" fill="#e4b622"/><circle cx="170.18" cy="311.30" r="1.5" fill="#e4b622"/><circle cx="174.45" cy="310.60" r="1.5" fill="#e4b622"/><circle cx="178.72" cy="309.40" r="1.5" fill="#e4b622"/><circle cx="182.99" cy="306.90" r="1.5" fill="#e4b622"/><circle cx="187.26" cy="304.70" r="1.5" fill="#e4b622"/><circle cx="191.53" cy="303.50" r="1.5" fill="#e4b622"/><circle cx="195.80" cy="303.50" r="1.5" fill="#e4b622"/><circle cx="200.07" cy="302.50" r="1.5" fill="#e4b622"/><circle cx="204.34" cy="301.00" r="1.5" fill="#e4b622"/><circle cx="208.61" cy="300.00" r="1.5" fill="#e4b622"/><circle cx="212.88" cy="299.10" r="1.5" fill="#e4b622"/><circle cx="217.15" cy="296.50" r="1.5" fill="#e4b622"/><circle cx="221.42" cy="294.50" r="1.5" fill="#e4b622"/><circle cx="225.69" cy="292.50" r="1.5" fill="#e4b622"/><circle cx="229.96" cy="290.50" r="1.5" fill="#e4b622"/><circle cx="234.23" cy="290.10" r="1.5" fill="#e4b622"/><circle cx="238.50" cy="289.50" r="1.5" fill="#e4b622"/><circle cx="242.77" cy="288.50" r="1.5" fill="#e4b622"/><circle cx="247.04" cy="287.10" r="1.5" fill="#e4b622"/><circle cx="251.31" cy="285.70" r="1.5" fill="#e4b622"/><circle cx="255.58" cy="283.60" r="1.5" fill="#e4b622"/><circle cx="259.85" cy="281.60" r="1.5" fill="#e4b622"/>
<circle cx="46.35" cy="342.80" r="1.5" fill="#dc5a43"/><circle cx="50.62" cy="342.80" r="1.5" fill="#dc5a43"/><circle cx="54.89" cy="342.80" r="1.5" fill="#dc5a43"/><circle cx="59.16" cy="342.50" r="1.5" fill="#dc5a43"/><circle cx="63.43" cy="342.50" r="1.5" fill="#dc5a43"/><circle cx="67.70" cy="342.20" r="1.5" fill="#dc5a43"/><circle cx="71.97" cy="342.20" r="1.5" fill="#dc5a43"/><circle cx="76.24" cy="342.10" r="1.5" fill="#dc5a43"/><circle cx="80.51" cy="342.10" r="1.5" fill="#dc5a43"/><circle cx="84.78" cy="341.80" r="1.5" fill="#dc5a43"/><circle cx="89.05" cy="341.40" r="1.5" fill="#dc5a43"/><circle cx="93.32" cy="340.90" r="1.5" fill="#dc5a43"/><circle cx="97.59" cy="340.80" r="1.5" fill="#dc5a43"/><circle cx="101.86" cy="340.70" r="1.5" fill="#dc5a43"/><circle cx="106.13" cy="340.50" r="1.5" fill="#dc5a43"/><circle cx="110.40" cy="340.50" r="1.5" fill="#dc5a43"/><circle cx="114.67" cy="340.20" r="1.5" fill="#dc5a43"/><circle cx="118.94" cy="340.00" r="1.5" fill="#dc5a43"/><circle cx="123.21" cy="339.70" r="1.5" fill="#dc5a43"/><circle cx="127.48" cy="339.10" r="1.5" fill="#dc5a43"/><circle cx="131.75" cy="339.10" r="1.5" fill="#dc5a43"/><circle cx="136.02" cy="338.30" r="1.5" fill="#dc5a43"/><circle cx="140.29" cy="337.90" r="1.5" fill="#dc5a43"/><circle cx="144.56" cy="337.00" r="1.5" fill="#dc5a43"/><circle cx="148.83" cy="336.50" r="1.5" fill="#dc5a43"/><circle cx="153.10" cy="336.60" r="1.5" fill="#dc5a43"/><circle cx="157.37" cy="336.80" r="1.5" fill="#dc5a43"/><circle cx="161.64" cy="336.30" r="1.5" fill="#dc5a43"/><circle cx="165.91" cy="335.90" r="1.5" fill="#dc5a43"/><circle cx="170.18" cy="335.90" r="1.5" fill="#dc5a43"/><circle cx="174.45" cy="335.60" r="1.5" fill="#dc5a43"/><circle cx="178.72" cy="335.60" r="1.5" fill="#dc5a43"/><circle cx="182.99" cy="335.30" r="1.5" fill="#dc5a43"/><circle cx="187.26" cy="334.90" r="1.5" fill="#dc5a43"/><circle cx="191.53" cy="334.40" r="1.5" fill="#dc5a43"/><circle cx="195.80" cy="333.80" r="1.5" fill="#dc5a43"/><circle cx="200.07" cy="332.90" r="1.5" fill="#dc5a43"/><circle cx="204.34" cy="331.90" r="1.5" fill="#dc5a43"/><circle cx="208.61" cy="331.60" r="1.5" fill="#dc5a43"/><circle cx="212.88" cy="331.20" r="1.5" fill="#dc5a43"/><circle cx="217.15" cy="330.80" r="1.5" fill="#dc5a43"/><circle cx="221.42" cy="330.60" r="1.5" fill="#dc5a43"/><circle cx="225.69" cy="330.20" r="1.5" fill="#dc5a43"/><circle cx="229.96" cy="329.80" r="1.5" fill="#dc5a43"/><circle cx="234.23" cy="329.40" r="1.5" fill="#dc5a43"/><circle cx="238.50" cy="329.20" r="1.5" fill="#dc5a43"/><circle cx="242.77" cy="329.20" r="1.5" fill="#dc5a43"/><circle cx="247.04" cy="328.60" r="1.5" fill="#dc5a43"/><circle cx="251.31" cy="328.20" r="1.5" fill="#dc5a43"/><circle cx="255.58" cy="327.20" r="1.5" fill="#dc5a43"/><circle cx="259.85" cy="327.20" r="1.5" fill="#dc5a43"/>
<line x1="311.0" y1="218.3" x2="311.0" y2="348.5" stroke="#333333" stroke-width="1.07"/>
<line x1="311.0" y1="348.5" x2="545.8" y2="348.5" stroke="#333333" stroke-width="1.07"/>
<line x1="321.40" y1="348.5" x2="321.40" y2="351.3" stroke="#333333" stroke-width="1.07"/>
<text x="321.40" y="358.9" text-anchor="middle" class="tk">0</text>
<line x1="364.06" y1="348.5" x2="364.06" y2="351.3" stroke="#333333" stroke-width="1.07"/>
<text x="364.06" y="358.9" text-anchor="middle" class="tk">10</text>
<line x1="406.72" y1="348.5" x2="406.72" y2="351.3" stroke="#333333" stroke-width="1.07"/>
<text x="406.72" y="358.9" text-anchor="middle" class="tk">20</text>
<line x1="449.38" y1="348.5" x2="449.38" y2="351.3" stroke="#333333" stroke-width="1.07"/>
<text x="449.38" y="358.9" text-anchor="middle" class="tk">30</text>
<line x1="492.04" y1="348.5" x2="492.04" y2="351.3" stroke="#333333" stroke-width="1.07"/>
<text x="492.04" y="358.9" text-anchor="middle" class="tk">40</text>
<line x1="534.70" y1="348.5" x2="534.70" y2="351.3" stroke="#333333" stroke-width="1.07"/>
<text x="534.70" y="358.9" text-anchor="middle" class="tk">50</text>
<line x1="308.2" y1="342.70" x2="311.0" y2="342.70" stroke="#333333" stroke-width="1.07"/>
<text x="307.1" y="346.00" text-anchor="end" class="tk">0.00</text>
<line x1="308.2" y1="313.00" x2="311.0" y2="313.00" stroke="#333333" stroke-width="1.07"/>
<text x="307.1" y="316.30" text-anchor="end" class="tk">0.25</text>
<line x1="308.2" y1="283.30" x2="311.0" y2="283.30" stroke="#333333" stroke-width="1.07"/>
<text x="307.1" y="286.60" text-anchor="end" class="tk">0.50</text>
<line x1="308.2" y1="253.30" x2="311.0" y2="253.30" stroke="#333333" stroke-width="1.07"/>
<text x="307.1" y="256.60" text-anchor="end" class="tk">0.75</text>
<line x1="308.2" y1="223.60" x2="311.0" y2="223.60" stroke="#333333" stroke-width="1.07"/>
<text x="307.1" y="226.90" text-anchor="end" class="tk">1.00</text>
<polyline points="321.40,342.20 325.67,338.60 329.94,332.40 334.21,319.00 338.48,312.30 342.75,309.10 347.02,290.40 351.29,289.30 355.56,280.50 359.83,263.80 364.10,260.40 368.37,260.40 372.64,260.70 376.91,257.20 381.18,253.30 385.45,245.50 389.72,243.10 393.99,241.50 398.26,240.10 402.53,238.70 406.80,237.10 411.07,235.70 415.34,234.50 419.61,234.10 423.88,234.30 428.15,232.90 432.42,232.20 436.69,232.20 440.96,230.80 445.23,230.80 449.50,228.30 453.77,227.20 458.04,227.20 462.31,226.80 466.58,226.80 470.85,226.80 475.12,226.70 479.39,226.70 483.66,226.70 487.93,226.70 492.20,226.70 496.47,225.00 500.74,225.00 505.01,225.00 509.28,225.00 513.55,225.00 517.82,223.40 522.09,223.40 526.36,223.40 530.63,223.40 534.90,223.40" fill="none" stroke="#12787c" stroke-width="0.9" stroke-linejoin="round"/>
<polyline points="321.40,342.20 325.67,342.20 329.94,340.30 334.21,332.60 338.48,329.00 342.75,323.10 347.02,319.40 351.29,307.90 355.56,303.20 359.83,296.50 364.10,291.30 368.37,280.90 372.64,272.10 376.91,268.50 381.18,263.70 385.45,258.90 389.72,256.80 393.99,254.20 398.26,246.70 402.53,243.10 406.80,242.10 411.07,240.70 415.34,239.10 419.61,236.70 423.88,234.10 428.15,232.60 432.42,231.60 436.69,231.70 440.96,230.50 445.23,230.50 449.50,230.90 453.77,230.90 458.04,230.90 462.31,230.60 466.58,229.60 470.85,229.60 475.12,229.40 479.39,229.40 483.66,229.40 487.93,229.40 492.20,229.40 496.47,229.40 500.74,229.40 505.01,229.40 509.28,229.40 513.55,229.40 517.82,228.00 522.09,228.00 526.36,228.00 530.63,228.00 534.90,228.00" fill="none" stroke="#e4b622" stroke-width="0.9" stroke-linejoin="round"/>
<polyline points="321.40,342.20 325.67,340.70 329.94,337.40 334.21,328.50 338.48,325.00 342.75,319.40 347.02,315.30 351.29,313.20 355.56,308.80 359.83,305.40 364.10,301.50 368.37,297.80 372.64,293.60 376.91,289.40 381.18,285.70 385.45,282.90 389.72,281.30 393.99,278.90 398.26,277.20 402.53,275.60 406.80,276.20 411.07,274.80 415.34,271.60 419.61,269.20 423.88,266.80 428.15,265.20 432.42,264.60 436.69,263.40 440.96,262.30 445.23,261.10 449.50,261.10 453.77,259.40 458.04,256.80 462.31,254.20 466.58,254.20 470.85,254.20 475.12,250.40 479.39,250.40 483.66,249.40 487.93,247.10 492.20,245.40 496.47,245.40 500.74,245.40 505.01,242.10 509.28,240.10 513.55,240.10 517.82,240.10 522.09,237.40 526.36,236.40 530.63,236.40 534.90,236.40" fill="none" stroke="#dc5a43" stroke-width="0.9" stroke-linejoin="round"/>
<circle cx="321.40" cy="342.20" r="1.5" fill="#12787c"/><circle cx="325.67" cy="338.60" r="1.5" fill="#12787c"/><circle cx="329.94" cy="332.40" r="1.5" fill="#12787c"/><circle cx="334.21" cy="319.00" r="1.5" fill="#12787c"/><circle cx="338.48" cy="312.30" r="1.5" fill="#12787c"/><circle cx="342.75" cy="309.10" r="1.5" fill="#12787c"/><circle cx="347.02" cy="290.40" r="1.5" fill="#12787c"/><circle cx="351.29" cy="289.30" r="1.5" fill="#12787c"/><circle cx="355.56" cy="280.50" r="1.5" fill="#12787c"/><circle cx="359.83" cy="263.80" r="1.5" fill="#12787c"/><circle cx="364.10" cy="260.40" r="1.5" fill="#12787c"/><circle cx="368.37" cy="260.40" r="1.5" fill="#12787c"/><circle cx="372.64" cy="260.70" r="1.5" fill="#12787c"/><circle cx="376.91" cy="257.20" r="1.5" fill="#12787c"/><circle cx="381.18" cy="253.30" r="1.5" fill="#12787c"/><circle cx="385.45" cy="245.50" r="1.5" fill="#12787c"/><circle cx="389.72" cy="243.10" r="1.5" fill="#12787c"/><circle cx="393.99" cy="241.50" r="1.5" fill="#12787c"/><circle cx="398.26" cy="240.10" r="1.5" fill="#12787c"/><circle cx="402.53" cy="238.70" r="1.5" fill="#12787c"/><circle cx="406.80" cy="237.10" r="1.5" fill="#12787c"/><circle cx="411.07" cy="235.70" r="1.5" fill="#12787c"/><circle cx="415.34" cy="234.50" r="1.5" fill="#12787c"/><circle cx="419.61" cy="234.10" r="1.5" fill="#12787c"/><circle cx="423.88" cy="234.30" r="1.5" fill="#12787c"/><circle cx="428.15" cy="232.90" r="1.5" fill="#12787c"/><circle cx="432.42" cy="232.20" r="1.5" fill="#12787c"/><circle cx="436.69" cy="232.20" r="1.5" fill="#12787c"/><circle cx="440.96" cy="230.80" r="1.5" fill="#12787c"/><circle cx="445.23" cy="230.80" r="1.5" fill="#12787c"/><circle cx="449.50" cy="228.30" r="1.5" fill="#12787c"/><circle cx="453.77" cy="227.20" r="1.5" fill="#12787c"/><circle cx="458.04" cy="227.20" r="1.5" fill="#12787c"/><circle cx="462.31" cy="226.80" r="1.5" fill="#12787c"/><circle cx="466.58" cy="226.80" r="1.5" fill="#12787c"/><circle cx="470.85" cy="226.80" r="1.5" fill="#12787c"/><circle cx="475.12" cy="226.70" r="1.5" fill="#12787c"/><circle cx="479.39" cy="226.70" r="1.5" fill="#12787c"/><circle cx="483.66" cy="226.70" r="1.5" fill="#12787c"/><circle cx="487.93" cy="226.70" r="1.5" fill="#12787c"/><circle cx="492.20" cy="226.70" r="1.5" fill="#12787c"/><circle cx="496.47" cy="225.00" r="1.5" fill="#12787c"/><circle cx="500.74" cy="225.00" r="1.5" fill="#12787c"/><circle cx="505.01" cy="225.00" r="1.5" fill="#12787c"/><circle cx="509.28" cy="225.00" r="1.5" fill="#12787c"/><circle cx="513.55" cy="225.00" r="1.5" fill="#12787c"/><circle cx="517.82" cy="223.40" r="1.5" fill="#12787c"/><circle cx="522.09" cy="223.40" r="1.5" fill="#12787c"/><circle cx="526.36" cy="223.40" r="1.5" fill="#12787c"/><circle cx="530.63" cy="223.40" r="1.5" fill="#12787c"/><circle cx="534.90" cy="223.40" r="1.5" fill="#12787c"/>
<circle cx="321.40" cy="342.20" r="1.5" fill="#e4b622"/><circle cx="325.67" cy="342.20" r="1.5" fill="#e4b622"/><circle cx="329.94" cy="340.30" r="1.5" fill="#e4b622"/><circle cx="334.21" cy="332.60" r="1.5" fill="#e4b622"/><circle cx="338.48" cy="329.00" r="1.5" fill="#e4b622"/><circle cx="342.75" cy="323.10" r="1.5" fill="#e4b622"/><circle cx="347.02" cy="319.40" r="1.5" fill="#e4b622"/><circle cx="351.29" cy="307.90" r="1.5" fill="#e4b622"/><circle cx="355.56" cy="303.20" r="1.5" fill="#e4b622"/><circle cx="359.83" cy="296.50" r="1.5" fill="#e4b622"/><circle cx="364.10" cy="291.30" r="1.5" fill="#e4b622"/><circle cx="368.37" cy="280.90" r="1.5" fill="#e4b622"/><circle cx="372.64" cy="272.10" r="1.5" fill="#e4b622"/><circle cx="376.91" cy="268.50" r="1.5" fill="#e4b622"/><circle cx="381.18" cy="263.70" r="1.5" fill="#e4b622"/><circle cx="385.45" cy="258.90" r="1.5" fill="#e4b622"/><circle cx="389.72" cy="256.80" r="1.5" fill="#e4b622"/><circle cx="393.99" cy="254.20" r="1.5" fill="#e4b622"/><circle cx="398.26" cy="246.70" r="1.5" fill="#e4b622"/><circle cx="402.53" cy="243.10" r="1.5" fill="#e4b622"/><circle cx="406.80" cy="242.10" r="1.5" fill="#e4b622"/><circle cx="411.07" cy="240.70" r="1.5" fill="#e4b622"/><circle cx="415.34" cy="239.10" r="1.5" fill="#e4b622"/><circle cx="419.61" cy="236.70" r="1.5" fill="#e4b622"/><circle cx="423.88" cy="234.10" r="1.5" fill="#e4b622"/><circle cx="428.15" cy="232.60" r="1.5" fill="#e4b622"/><circle cx="432.42" cy="231.60" r="1.5" fill="#e4b622"/><circle cx="436.69" cy="231.70" r="1.5" fill="#e4b622"/><circle cx="440.96" cy="230.50" r="1.5" fill="#e4b622"/><circle cx="445.23" cy="230.50" r="1.5" fill="#e4b622"/><circle cx="449.50" cy="230.90" r="1.5" fill="#e4b622"/><circle cx="453.77" cy="230.90" r="1.5" fill="#e4b622"/><circle cx="458.04" cy="230.90" r="1.5" fill="#e4b622"/><circle cx="462.31" cy="230.60" r="1.5" fill="#e4b622"/><circle cx="466.58" cy="229.60" r="1.5" fill="#e4b622"/><circle cx="470.85" cy="229.60" r="1.5" fill="#e4b622"/><circle cx="475.12" cy="229.40" r="1.5" fill="#e4b622"/><circle cx="479.39" cy="229.40" r="1.5" fill="#e4b622"/><circle cx="483.66" cy="229.40" r="1.5" fill="#e4b622"/><circle cx="487.93" cy="229.40" r="1.5" fill="#e4b622"/><circle cx="492.20" cy="229.40" r="1.5" fill="#e4b622"/><circle cx="496.47" cy="229.40" r="1.5" fill="#e4b622"/><circle cx="500.74" cy="229.40" r="1.5" fill="#e4b622"/><circle cx="505.01" cy="229.40" r="1.5" fill="#e4b622"/><circle cx="509.28" cy="229.40" r="1.5" fill="#e4b622"/><circle cx="513.55" cy="229.40" r="1.5" fill="#e4b622"/><circle cx="517.82" cy="228.00" r="1.5" fill="#e4b622"/><circle cx="522.09" cy="228.00" r="1.5" fill="#e4b622"/><circle cx="526.36" cy="228.00" r="1.5" fill="#e4b622"/><circle cx="530.63" cy="228.00" r="1.5" fill="#e4b622"/><circle cx="534.90" cy="228.00" r="1.5" fill="#e4b622"/>
<circle cx="321.40" cy="342.20" r="1.5" fill="#dc5a43"/><circle cx="325.67" cy="340.70" r="1.5" fill="#dc5a43"/><circle cx="329.94" cy="337.40" r="1.5" fill="#dc5a43"/><circle cx="334.21" cy="328.50" r="1.5" fill="#dc5a43"/><circle cx="338.48" cy="325.00" r="1.5" fill="#dc5a43"/><circle cx="342.75" cy="319.40" r="1.5" fill="#dc5a43"/><circle cx="347.02" cy="315.30" r="1.5" fill="#dc5a43"/><circle cx="351.29" cy="313.20" r="1.5" fill="#dc5a43"/><circle cx="355.56" cy="308.80" r="1.5" fill="#dc5a43"/><circle cx="359.83" cy="305.40" r="1.5" fill="#dc5a43"/><circle cx="364.10" cy="301.50" r="1.5" fill="#dc5a43"/><circle cx="368.37" cy="297.80" r="1.5" fill="#dc5a43"/><circle cx="372.64" cy="293.60" r="1.5" fill="#dc5a43"/><circle cx="376.91" cy="289.40" r="1.5" fill="#dc5a43"/><circle cx="381.18" cy="285.70" r="1.5" fill="#dc5a43"/><circle cx="385.45" cy="282.90" r="1.5" fill="#dc5a43"/><circle cx="389.72" cy="281.30" r="1.5" fill="#dc5a43"/><circle cx="393.99" cy="278.90" r="1.5" fill="#dc5a43"/><circle cx="398.26" cy="277.20" r="1.5" fill="#dc5a43"/><circle cx="402.53" cy="275.60" r="1.5" fill="#dc5a43"/><circle cx="406.80" cy="276.20" r="1.5" fill="#dc5a43"/><circle cx="411.07" cy="274.80" r="1.5" fill="#dc5a43"/><circle cx="415.34" cy="271.60" r="1.5" fill="#dc5a43"/><circle cx="419.61" cy="269.20" r="1.5" fill="#dc5a43"/><circle cx="423.88" cy="266.80" r="1.5" fill="#dc5a43"/><circle cx="428.15" cy="265.20" r="1.5" fill="#dc5a43"/><circle cx="432.42" cy="264.60" r="1.5" fill="#dc5a43"/><circle cx="436.69" cy="263.40" r="1.5" fill="#dc5a43"/><circle cx="440.96" cy="262.30" r="1.5" fill="#dc5a43"/><circle cx="445.23" cy="261.10" r="1.5" fill="#dc5a43"/><circle cx="449.50" cy="261.10" r="1.5" fill="#dc5a43"/><circle cx="453.77" cy="259.40" r="1.5" fill="#dc5a43"/><circle cx="458.04" cy="256.80" r="1.5" fill="#dc5a43"/><circle cx="462.31" cy="254.20" r="1.5" fill="#dc5a43"/><circle cx="466.58" cy="254.20" r="1.5" fill="#dc5a43"/><circle cx="470.85" cy="254.20" r="1.5" fill="#dc5a43"/><circle cx="475.12" cy="250.40" r="1.5" fill="#dc5a43"/><circle cx="479.39" cy="250.40" r="1.5" fill="#dc5a43"/><circle cx="483.66" cy="249.40" r="1.5" fill="#dc5a43"/><circle cx="487.93" cy="247.10" r="1.5" fill="#dc5a43"/><circle cx="492.20" cy="245.40" r="1.5" fill="#dc5a43"/><circle cx="496.47" cy="245.40" r="1.5" fill="#dc5a43"/><circle cx="500.74" cy="245.40" r="1.5" fill="#dc5a43"/><circle cx="505.01" cy="242.10" r="1.5" fill="#dc5a43"/><circle cx="509.28" cy="240.10" r="1.5" fill="#dc5a43"/><circle cx="513.55" cy="240.10" r="1.5" fill="#dc5a43"/><circle cx="517.82" cy="240.10" r="1.5" fill="#dc5a43"/><circle cx="522.09" cy="237.40" r="1.5" fill="#dc5a43"/><circle cx="526.36" cy="236.40" r="1.5" fill="#dc5a43"/><circle cx="530.63" cy="236.40" r="1.5" fill="#dc5a43"/><circle cx="534.90" cy="236.40" r="1.5" fill="#dc5a43"/>

<text x="32.4" y="31.2" class="ttl">(A)</text>
<text x="311.3" y="29.2" class="ttl">(B)</text>
<text x="35.0" y="209.2" class="ttl">(C)</text>
<text x="311.0" y="209.2" class="ttl">(D)</text>
<text transform="translate(12.2,104.2) rotate(-90)" text-anchor="middle" class="ax">g(r)</text>
<text transform="translate(286.1,104.2) rotate(-90)" text-anchor="middle" class="ax">L(r)</text>
<text transform="translate(12.1,283.3) rotate(-90)" text-anchor="middle" class="ax">Hs(r)</text>
<text transform="translate(286.1,283.3) rotate(-90)" text-anchor="middle" class="ax">D(r)</text>
<text x="152.9" y="369.8" text-anchor="middle" class="ax">Spatial scale, r(m)</text>
<text x="427.8" y="369.8" text-anchor="middle" class="ax">Spatial scale, r(m)</text>
<text x="153.5" y="10.0" class="lg">Nesting beach</text>
<line x1="220.9" y1="6.9" x2="233.3" y2="6.9" stroke="#12787c" stroke-width="0.9"/><circle cx="227.1" cy="6.9" r="1.5" fill="#12787c"/>
<text x="240.0" y="10.0" class="lk">Colorada <tspan class="as" dx="0.8">*</tspan></text>
<line x1="282.7" y1="6.9" x2="295.1" y2="6.9" stroke="#e4b622" stroke-width="0.9"/><circle cx="288.9" cy="6.9" r="1.5" fill="#e4b622"/>
<text x="300.9" y="10.0" class="lk">Nancite <tspan class="as" dx="0.8">**</tspan></text>
<line x1="341.8" y1="6.9" x2="354.2" y2="6.9" stroke="#dc5a43" stroke-width="0.9"/><circle cx="348.0" cy="6.9" r="1.5" fill="#dc5a43"/>
<text x="360.9" y="10.0" class="lk">Naranjo <tspan class="as" dx="0.8">***</tspan></text>

</g>
</svg>
</body></html>
